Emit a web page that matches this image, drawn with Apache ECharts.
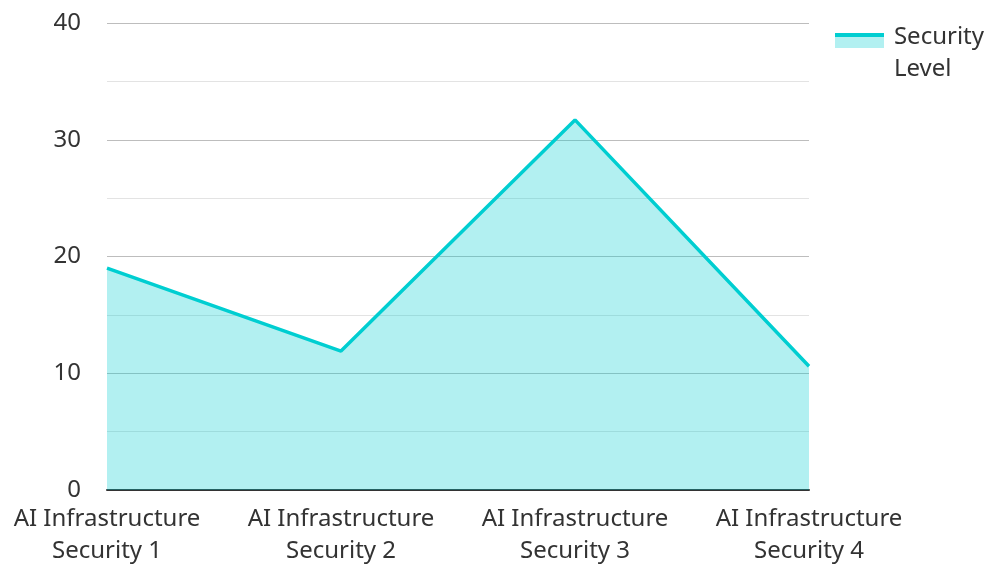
<!DOCTYPE html>
<html lang="en">
<head>
  <meta charset="UTF-8">
  <title>Security Level</title>
  <script src="https://cdn.jsdelivr.net/npm/echarts@6/dist/echarts.min.js"></script>
  <style>
    html, body { margin: 0; padding: 0; background: #fff; }
    #main { width: 990px; height: 564px; }
  </style>
</head>
<body>
  <div id="main"></div>
  <script>
    var aCategory = ['AI Infrastructure Security 1', 'AI Infrastructure Security 2', 'AI Infrastructure Security 3', 'AI Infrastructure Security 4'];
    var aLevel = [19, 11.9, 31.7, 10.6];
    var sName = 'Security Level';

    var lineColor = '#00ced1';
    var areaColor = 'rgba(0,206,209,0.3)';

    var oChart = echarts.init(document.getElementById('main'));
    var opt = {
      textStyle: { fontFamily: 'Noto Sans' },
      grid: { left: 107, right: 181, top: 23, bottom: 74, outerBoundsMode: 'none' },
      legend: {
        show: true,
        right: 1,
        top: 16,
        orient: 'vertical',
        icon: 'rect',
        itemWidth: 49,
        itemHeight: 14,
        itemStyle: { color: 'rgba(0,0,0,0)' },
        textStyle: { fontSize: 24, color: '#333', lineHeight: 32, fontFamily: 'Noto Sans' },
        formatter: function (name) { return name.replace(' ', '\n'); },
        data: [sName]
      },
      // legend swatch: line on top of the area patch, like the original
      graphic: [
        { type: 'rect', shape: { x: 835, y: 37, width: 49, height: 11 }, style: { fill: areaColor }, z: 100 },
        { type: 'rect', shape: { x: 835, y: 33, width: 49, height: 4 }, style: { fill: lineColor }, z: 100 }
      ],
      xAxis: {
        type: 'category',
        boundaryGap: false,
        data: aCategory,
        axisLine: { show: true, lineStyle: { color: '#333', width: 2 } },
        axisTick: { show: false },
        axisLabel: {
          interval: 0,
          fontSize: 24,
          color: '#333',
          lineHeight: 32,
          margin: 13,
          fontFamily: 'Noto Sans',
          formatter: function (v) { return v.replace(' Security', '\nSecurity'); }
        }
      },
      yAxis: {
        type: 'value',
        min: 0,
        max: 40,
        interval: 10,
        axisLine: { show: false },
        axisTick: { show: false },
        axisLabel: { fontSize: 24, color: '#333', margin: 26, fontFamily: 'Noto Sans' },
        splitLine: { show: true, lineStyle: { color: '#bdbdbd', width: 1 } },
        minorTick: { show: false, splitNumber: 2 },
        minorSplitLine: { show: true, lineStyle: { color: '#e3e3e3', width: 1 } }
      },
      series: [
        {
          name: sName,
          type: 'line',
          data: aLevel,
          symbol: 'none',
          lineStyle: { color: lineColor, width: 3.5 },
          itemStyle: { color: lineColor },
          areaStyle: { color: areaColor, opacity: 1 }
        }
      ]
    };
    oChart.setOption(opt);
  </script>
</body>
</html>
